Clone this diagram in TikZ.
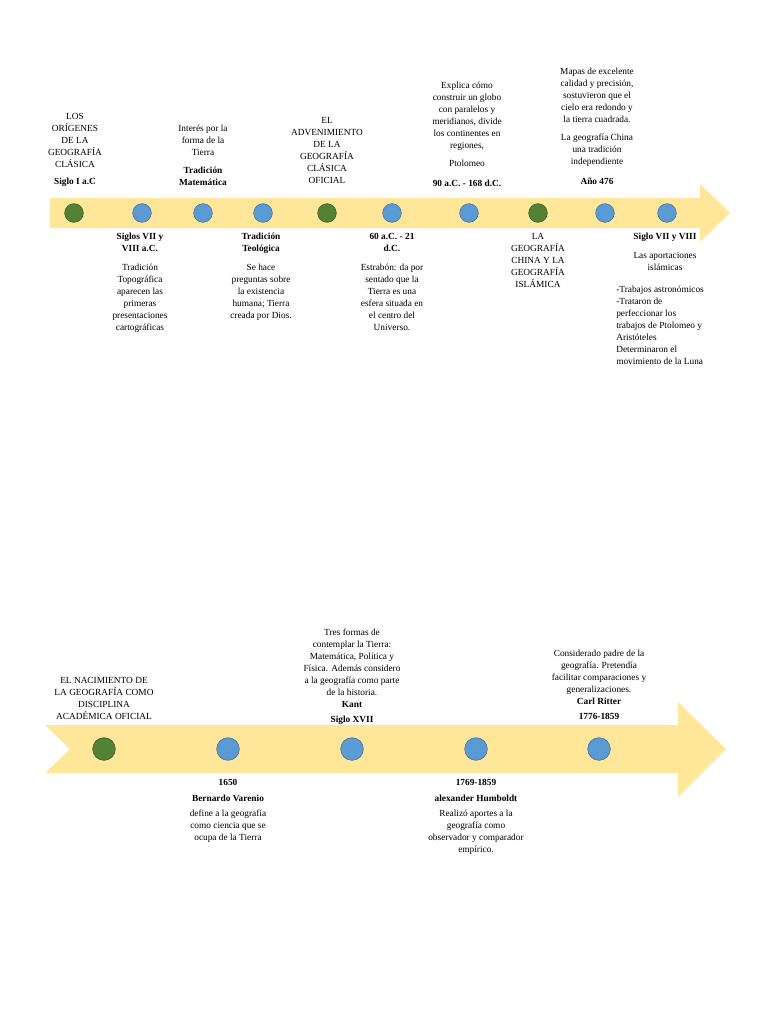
\documentclass[tikz,border=0pt]{standalone}
\usepackage{fontspec}
\setmainfont{Liberation Serif}
\begin{document}
\begin{tikzpicture}[x=0.75pt,y=-0.75pt,
  txt/.style={font=\fontsize{7}{9}\selectfont,align=center,inner sep=0pt,anchor=north},
  band/.style={fill=yellow!35!orange!40!white,draw=none},
  bdot/.style={ellipse,fill=blue!35!cyan!60!gray,draw=blue!40!black,line width=0.3pt,minimum width=20pt,inner sep=0pt},
  gdot/.style={fill=green!40!black!80!lime,draw=green!20!black,line width=0.3pt},
  dotA/.style={circle,minimum size=14pt,inner sep=0pt},
  dotB/.style={circle,minimum size=17pt,inner sep=0pt}]
\definecolor{bandc}{HTML}{FFE699}
\definecolor{bluec}{HTML}{5B9BD5}
\definecolor{greenc}{HTML}{548235}
\tikzset{bl/.style={fill=bluec,draw=bluec!70!black,line width=0.4pt},gr/.style={fill=greenc,draw=greenc!70!black,line width=0.4pt}}
\useasboundingbox (0,0) rectangle (768,1024);
\fill[white] (0,0) rectangle (768,1024);
% arrow 1
\fill[bandc] (50,198) -- (700,198) -- (700,184) -- (730,213) -- (700,242) -- (700,228) -- (50,228) -- cycle;
\foreach \x/\s [count=\i] in {74/gr,142/bl,203/bl,263/bl,327/gr,392/bl,469/bl,538/gr,605/bl,667/bl}
  \node[dotA,\s] (a\i) at (\x,213) {};
% arrow 2
\fill[bandc] (45,725) -- (678,725) -- (678,702) -- (726,749) -- (678,797) -- (678,773) -- (45,773) -- (70,749) -- cycle;
\foreach \x/\s [count=\i] in {104/gr,228/bl,352/bl,476/bl,599/bl}
  \node[dotB,\s] (b\i) at (\x,749) {};
% top labels
\node[txt] (t1) at (75,113) {LOS\\ORÍGENES\\DE LA\\GEOGRAFÍA\\CLÁSICA\\[4pt]\textbf{Siglo I a.C}};
\node[txt] (t2) at (203,125) {Interés por la\\forma de la\\Tierra\\[4pt]\textbf{Tradición}\\\textbf{Matemática}};
\node[txt] (t3) at (327,117) {EL\\ADVENIMIENTO\\DE LA\\GEOGRAFÍA\\CLÁSICA\\OFICIAL};
\node[txt] (t4) at (467,82) {Explica cómo\\construir un globo\\con paralelos y\\meridianos, divide\\los continentes en\\regiones,\\[4pt]Ptolomeo\\[6pt]\textbf{90 a.C. - 168 d.C.}};
\node[txt] (t5) at (597,68) {Mapas de excelente\\calidad y precisión,\\sostuvieron que el\\cielo era redondo y\\la tierra cuadrada.\\[4pt]La geografía China\\una tradición\\independiente\\[6pt]\textbf{Año 476}};
% bottom labels
\node[txt] (u1) at (140,233) {\textbf{Siglos VII y}\\\textbf{VIII a.C.}\\[5pt]Tradición\\Topográfica\\aparecen las\\primeras\\presentaciones\\cartográficas};
\node[txt] (u2) at (261,233) {\textbf{Tradición}\\\textbf{Teológica}\\[5pt]Se hace\\preguntas sobre\\la existencia\\humana; Tierra\\creada por Dios.};
\node[txt] (u3) at (392,233) {\textbf{60 a.C. - 21}\\\textbf{d.C.}\\[5pt]Estrabón: da por\\sentado que la\\Tierra es una\\esfera situada en\\el centro del\\Universo.};
\node[txt] (u4) at (538,233) {LA\\GEOGRAFÍA\\CHINA Y LA\\GEOGRAFÍA\\ISLÁMICA};
\node[txt] (u5) at (665,233) {\textbf{Siglo VII y VIII}\\[5pt]Las aportaciones\\islámicas};
\node[txt,align=left,anchor=north west] (u6) at (616,286) {-Trabajos astronómicos\\-Trataron de\\perfeccionar los\\trabajos de Ptolomeo y\\Aristóteles\\Determinaron el\\movimiento de la Luna};
% second timeline
\node[txt] (v1) at (104,677) {EL NACIMIENTO DE\\LA GEOGRAFÍA COMO\\DISCIPLINA\\ACADÉMICA OFICIAL};
\node[txt] (v2) at (352,629) {Tres formas de\\contemplar la Tierra:\\Matemática, Política y\\Física. Además considero\\a la geografía como parte\\de la historia.\\\textbf{Kant}\\[2pt]\textbf{Siglo XVII}};
\node[txt] (v3) at (599,650) {Considerado padre de la\\geografía. Pretendía\\facilitar comparaciones y\\generalizaciones.\\\textbf{Carl Ritter}\\[2pt]\textbf{1776-1859}};
\node[txt] (w1) at (228,779) {\textbf{1650}\\[3pt]\textbf{Bernardo Varenio}\\[2pt]define a la geografía\\como ciencia que se\\ocupa de la Tierra};
\node[txt] (w2) at (476,779) {\textbf{1769-1859}\\[3pt]\textbf{alexander Humboldt}\\[2pt]Realizó aportes a la\\geografía como\\observador y comparador\\empírico.};
\end{tikzpicture}
\end{document}
